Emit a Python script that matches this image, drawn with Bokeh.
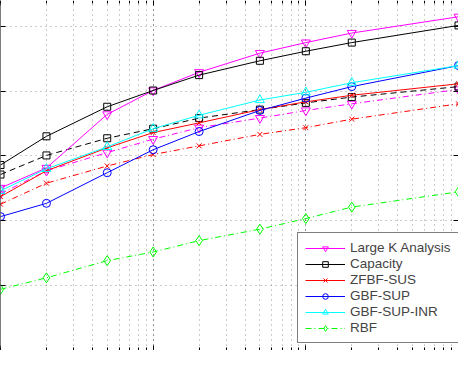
from bokeh.plotting import figure
from bokeh.models import (Range1d, LogAxis, LinearAxis, LogTicker, FixedTicker, Grid,
                          Legend, LegendItem, CustomJSTickFormatter)
from bokeh.embed import file_html
from bokeh.resources import INLINE

# ---- data ----
users = [10, 20, 50, 100, 200, 500, 1000, 2000, 10000]
large_k = [12.52, 14.07, 18.22, 20.07, 21.48, 22.96, 23.78, 24.52, 25.78]
capacity = [14.30, 16.52, 18.81, 20.07, 21.26, 22.37, 23.11, 23.78, 25.11]
zfbf_sus = [11.85, 13.85, 15.63, 16.81, 17.56, 18.59, 19.19, 19.70, 20.59]
gbf_sup = [10.30, 11.33, 13.70, 15.48, 16.89, 18.52, 19.48, 20.37, 22.00]
gbf_sup_inr = [12.30, 14.00, 15.70, 17.11, 18.15, 19.33, 19.93, 20.67, 22.00]
rbf = [4.67, 5.56, 6.89, 7.56, 8.44, 9.33, 10.15, 11.04, 12.22]
large_k_b = [12.07, 13.85, 15.26, 16.30, 17.19, 17.93, 18.52, 19.04, 20.15]
capacity_b = [13.56, 15.04, 16.37, 17.11, 17.93, 18.59, 19.11, 19.56, 20.37]
zfbf_sus_b = [11.26, 12.89, 14.22, 15.11, 15.78, 16.67, 17.19, 17.85, 19.04]
y_ticks = [5, 10, 15, 20, 25]
x_start, x_end = 10, 10000
y_start, y_end = -0.07, 27.04

p = figure(width=458, height=350, x_axis_type="log",
           x_range=Range1d(x_start, x_end), y_range=Range1d(y_start, y_end),
           x_axis_location=None, y_axis_location=None,
           output_backend="svg", toolbar_location=None, min_border=0,
           outline_line_color=None, background_fill_color="white")
p.center = []

gridkw = dict(grid_line_color="#555555", grid_line_alpha=0.6, grid_line_dash="1 4", grid_line_width=1)
xg = Grid(dimension=0, ticker=LogTicker(num_minor_ticks=10),
          minor_grid_line_color="#555555", minor_grid_line_alpha=0.6,
          minor_grid_line_dash="1 4", **gridkw)
yg = Grid(dimension=1, ticker=FixedTicker(ticks=y_ticks), **gridkw)
p.add_layout(xg)
p.add_layout(yg)

def style_axis(ax, line=True):
    ax.formatter = CustomJSTickFormatter(code="return ''")
    ax.major_label_standoff = 0
    ax.major_tick_out = 0
    ax.minor_tick_out = 0
    ax.major_tick_in = 5
    ax.minor_tick_in = 3
    ax.major_tick_line_color = "black"
    ax.minor_tick_line_color = "black"
    ax.axis_line_color = "black" if line else None

bx = LogAxis(ticker=LogTicker(num_minor_ticks=10), fixed_location=y_start)
tx = LogAxis(ticker=LogTicker(num_minor_ticks=10), fixed_location=y_end)
ly = LinearAxis(ticker=FixedTicker(ticks=y_ticks), fixed_location=x_start)
ry = LinearAxis(ticker=FixedTicker(ticks=y_ticks), fixed_location=x_end)
style_axis(bx, False)
style_axis(tx, False)
style_axis(ly, True)
style_axis(ry, True)
p.add_layout(bx, "below")
p.add_layout(tx, "above")
p.add_layout(ly, "left")
p.add_layout(ry, "right")

def series(y, color, marker, size, dash="solid"):
    l = p.line(users, y, line_color=color, line_width=1, line_dash=dash)
    s = p.scatter(users, y, marker=marker, size=size, line_color=color,
                  fill_color=None, line_width=1)
    return [l, s]

dashed = "6 4"
dashdot = "6 3 1 3"
# secondary (dashed) curves, not in legend
series(large_k_b, "#FF00FF", "inverted_triangle", 9, dashdot)
series(capacity_b, "black", "square", 7, dashed)
series(zfbf_sus_b, "#FF0000", "x", 7, dashdot)

r_lk = series(large_k, "#FF00FF", "inverted_triangle", 9)
r_cap = series(capacity, "black", "square", 7)
r_zf = series(zfbf_sus, "#FF0000", "x", 7)
r_gb = series(gbf_sup, "#0000FF", "circle", 8)
r_gbi = series(gbf_sup_inr, "#00FFFF", "triangle", 9)
r_rbf = series(rbf, "#00FF00", "diamond", 10, dashdot)

legend = Legend(items=[
    LegendItem(label="Large K Analysis", renderers=r_lk),
    LegendItem(label="Capacity", renderers=r_cap),
    LegendItem(label="ZFBF-SUS", renderers=r_zf),
    LegendItem(label="GBF-SUP", renderers=r_gb),
    LegendItem(label="GBF-SUP-INR", renderers=r_gbi),
    LegendItem(label="RBF", renderers=r_rbf),
], location=(297, 7), glyph_width=40, glyph_height=14, label_height=14,
   spacing=1, padding=7, margin=0, label_standoff=5,
   label_text_font="Liberation Sans", label_text_font_size="13.5px",
   border_line_color="black", border_line_width=1,
   background_fill_color="white", background_fill_alpha=1.0)
p.add_layout(legend)

open("out.html", "w").write(file_html(p, INLINE))
